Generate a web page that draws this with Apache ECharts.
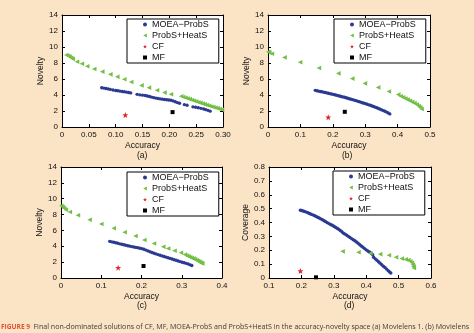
<!DOCTYPE html>
<html><head><meta charset="utf-8">
<script src="https://cdn.jsdelivr.net/npm/echarts@6/dist/echarts.min.js"></script>
<style>html,body{margin:0;padding:0;background:#fbe3c5;}#c{width:474px;height:333px;}</style>
</head><body><div id="c"></div>
<script>
// ---------- DATA ----------
const seriesNames = ['MOEA\u2212ProbS', 'ProbS+HeatS', 'CF', 'MF'];
const panelLabels = ['(a)', '(b)', '(c)', '(d)'];
const xAxisTitles = ['Accuracy', 'Accuracy', 'Accuracy', 'Accuracy'];
const yAxisTitles = ['Novelty', 'Novelty', 'Novelty', 'Coverage'];

const xTicksA = ['0', '0.05', '0.10', '0.15', '0.20', '0.25', '0.30'];
const xTicksB = ['0', '0.1', '0.2', '0.3', '0.4', '0.5'];
const xTicksC = ['0', '0.1', '0.2', '0.3', '0.4'];
const xTicksD = ['0.1', '0.2', '0.3', '0.4', '0.5', '0.6'];
const yTicksNovelty = ['0', '2', '4', '6', '8', '10', '12', '14'];
const yTicksCoverage = ['0', '0.1', '0.2', '0.3', '0.4', '0.5', '0.6', '0.7', '0.8'];

// (a)
const moeaA = [[0.074,4.90],[0.078,4.86],[0.082,4.81],[0.086,4.76],[0.090,4.70],[0.095,4.63],[0.100,4.57],[0.104,4.53],[0.108,4.49],[0.112,4.44],[0.116,4.40],[0.120,4.36],[0.124,4.32],[0.128,4.26],[0.140,4.08],[0.145,4.02],[0.150,3.98],[0.155,3.93],[0.159,3.87],[0.163,3.81],[0.167,3.74],[0.171,3.67],[0.175,3.61],[0.179,3.56],[0.183,3.52],[0.187,3.48],[0.191,3.43],[0.195,3.41],[0.199,3.38],[0.203,3.34],[0.207,3.26],[0.211,3.15],[0.215,3.05],[0.219,2.97],[0.228,2.80],[0.233,2.71],[0.244,2.52],[0.249,2.46],[0.254,2.40],[0.259,2.33],[0.264,2.25],[0.268,2.17],[0.272,2.08],[0.276,1.98]];
const heatsA = [[0.008,9.00],[0.011,8.90],[0.014,8.80],[0.017,8.66],[0.020,8.52],[0.028,8.15],[0.037,7.90],[0.047,7.60],[0.060,7.25],[0.075,6.92],[0.090,6.58],[0.103,6.27],[0.116,5.97],[0.129,5.62],[0.148,5.20],[0.162,4.92],[0.177,4.60],[0.191,4.30],[0.203,4.10],[0.222,3.84],[0.226,3.75],[0.230,3.66],[0.234,3.57],[0.238,3.48],[0.242,3.38],[0.246,3.28],[0.250,3.19],[0.254,3.10],[0.258,3.01],[0.262,2.92],[0.266,2.83],[0.270,2.74],[0.274,2.65],[0.278,2.57],[0.282,2.49],[0.286,2.41],[0.290,2.33],[0.294,2.25],[0.298,2.17]];
const cfA = [[0.118,1.50]];
const mfA = [[0.206,1.86]];

// (b)
const moeaB = [[0.146,4.58],[0.151,4.53],[0.156,4.49],[0.161,4.44],[0.166,4.40],[0.171,4.36],[0.176,4.31],[0.181,4.27],[0.186,4.22],[0.191,4.17],[0.196,4.12],[0.201,4.08],[0.206,4.03],[0.211,3.98],[0.216,3.92],[0.221,3.87],[0.226,3.82],[0.231,3.76],[0.236,3.71],[0.241,3.65],[0.246,3.60],[0.251,3.54],[0.256,3.48],[0.261,3.42],[0.266,3.36],[0.271,3.30],[0.276,3.24],[0.281,3.17],[0.286,3.11],[0.291,3.04],[0.296,2.98],[0.301,2.92],[0.306,2.84],[0.311,2.77],[0.316,2.71],[0.321,2.63],[0.326,2.56],[0.331,2.48],[0.336,2.40],[0.341,2.32],[0.346,2.23],[0.351,2.14],[0.356,2.05],[0.361,1.96],[0.366,1.86],[0.371,1.76],[0.376,1.64]];
const heatsB = [[0.001,9.40],[0.004,9.30],[0.012,9.15],[0.051,8.70],[0.099,8.10],[0.157,7.38],[0.217,6.70],[0.260,6.05],[0.299,5.45],[0.340,4.95],[0.373,4.44],[0.402,4.05],[0.410,3.85],[0.417,3.70],[0.424,3.56],[0.431,3.42],[0.438,3.28],[0.445,3.14],[0.452,2.98],[0.459,2.82],[0.465,2.62],[0.470,2.45],[0.474,2.25]];
const cfB = [[0.186,1.22]];
const mfB = [[0.237,1.90]];

// (c)
const moeaC = [[0.121,4.62],[0.126,4.56],[0.131,4.50],[0.136,4.44],[0.141,4.38],[0.146,4.31],[0.151,4.25],[0.156,4.19],[0.161,4.13],[0.166,4.07],[0.171,4.02],[0.176,3.96],[0.181,3.91],[0.186,3.86],[0.191,3.81],[0.196,3.76],[0.201,3.70],[0.206,3.62],[0.211,3.52],[0.216,3.42],[0.221,3.32],[0.226,3.22],[0.231,3.12],[0.236,3.04],[0.241,2.95],[0.246,2.87],[0.251,2.79],[0.256,2.71],[0.261,2.63],[0.266,2.55],[0.271,2.47],[0.276,2.39],[0.281,2.31],[0.286,2.23],[0.291,2.15],[0.296,2.07],[0.301,1.99],[0.306,1.92],[0.311,1.85],[0.316,1.76],[0.321,1.66],[0.325,1.57]];
const heatsC = [[0.001,9.10],[0.004,8.95],[0.008,8.80],[0.012,8.60],[0.022,8.33],[0.042,7.92],[0.071,7.35],[0.100,6.82],[0.131,6.27],[0.158,5.77],[0.185,5.30],[0.207,4.79],[0.231,4.35],[0.254,3.95],[0.266,3.72],[0.282,3.43],[0.298,3.18],[0.308,2.95],[0.313,2.82],[0.317,2.72],[0.321,2.62],[0.325,2.53],[0.329,2.44],[0.333,2.35],[0.337,2.24],[0.340,2.15],[0.343,2.06],[0.346,1.97],[0.349,1.88],[0.351,1.82]];
const cfC = [[0.142,1.30]];
const mfC = [[0.205,1.51]];

// (d)
const moeaD = [[0.197,0.488],[0.201,0.486],[0.205,0.483],[0.210,0.479],[0.215,0.475],[0.220,0.470],[0.225,0.465],[0.230,0.460],[0.235,0.455],[0.240,0.450],[0.245,0.444],[0.250,0.438],[0.255,0.432],[0.260,0.426],[0.265,0.420],[0.270,0.413],[0.275,0.406],[0.280,0.399],[0.285,0.392],[0.290,0.386],[0.295,0.380],[0.300,0.373],[0.305,0.366],[0.310,0.359],[0.315,0.351],[0.320,0.342],[0.325,0.333],[0.330,0.322],[0.335,0.316],[0.340,0.308],[0.345,0.300],[0.350,0.292],[0.355,0.284],[0.360,0.276],[0.365,0.268],[0.370,0.260],[0.375,0.250],[0.380,0.240],[0.385,0.231],[0.390,0.222],[0.395,0.212],[0.400,0.203],[0.405,0.195],[0.410,0.187],[0.415,0.179],[0.420,0.168],[0.423,0.150],[0.428,0.138],[0.433,0.128],[0.438,0.117],[0.443,0.106],[0.448,0.095],[0.453,0.085],[0.458,0.076],[0.463,0.064],[0.468,0.053],[0.472,0.044],[0.476,0.036]];
const heatsD = [[0.327,0.192],[0.376,0.186],[0.413,0.178],[0.443,0.172],[0.470,0.164],[0.492,0.150],[0.510,0.140],[0.522,0.134],[0.530,0.129],[0.536,0.121],[0.541,0.110],[0.544,0.096],[0.546,0.083],[0.547,0.072]];
const cfD = [[0.197,0.050]];
const mfD = [[0.245,0.005]];

const captionHead = 'FIGURE 9';
const captionBody = 'Final non-dominated solutions of CF, MF, MOEA-ProbS and ProbS+HeatS in the accuracy-novelty space (a) Movielens 1. (b) Movielens';

// ---------- LAYOUT / STYLE ----------
const FONT = 'Liberation Sans';
const panels = [
  {grid:{left:62, top:15, width:161, height:112}, xt:xTicksA, yt:yTicksNovelty, data:[moeaA,heatsA,cfA,mfA], legend:{left:127, top:19}, label:[143,156], yGap:14},
  {grid:{left:268, top:15, width:162, height:112}, xt:xTicksB, yt:yTicksNovelty, data:[moeaB,heatsB,cfB,mfB], legend:{left:334, top:19}, label:[348,156], yGap:17},
  {grid:{left:61, top:167, width:161, height:111}, xt:xTicksC, yt:yTicksNovelty, data:[moeaC,heatsC,cfC,mfC], legend:{left:127, top:172}, label:[143,306], yGap:16},
  {grid:{left:269, top:167, width:162, height:111}, xt:xTicksD, yt:yTicksCoverage, data:[moeaD,heatsD,cfD,mfD], legend:{left:333, top:171}, label:[350,306], yGap:18}
];
const STAR = 'path://M0,-10L2.4,-3.3L9.5,-3.1L3.9,1.3L5.9,8.1L0,4.1L-5.9,8.1L-3.9,1.3L-9.5,-3.1L-2.4,-3.3Z';
const LEFT_TRI = 'path://M0,5L9,0L9,10Z';
const seriesStyles = [
  {symbol:'circle', symbolSize:3.4, color:'#2a3a92'},
  {symbol:LEFT_TRI, symbolSize:4.6, color:'#72bf44'},
  {symbol:STAR, symbolSize:6, color:'#e3262d'},
  {symbol:'rect', symbolSize:4, color:'#000000'}
];

function axisFromTicks(labels) {
  const min = parseFloat(labels[0]);
  const max = parseFloat(labels[labels.length - 1]);
  const interval = (max - min) / (labels.length - 1);
  return {min, max, interval, fmt: v => labels[Math.round((v - min) / interval)] || ''};
}

const option = {
  backgroundColor: '#fbe3c5',
  animation: false,
  grid: [], xAxis: [], yAxis: [], series: [], legend: [], graphic: []
};

panels.forEach((p, i) => {
  option.grid.push(Object.assign({show:true, backgroundColor:'#ffffff', borderWidth:0}, p.grid));
  const xa = axisFromTicks(p.xt), ya = axisFromTicks(p.yt);
  const lineStyle = {color:'#000', width:1};
  const base = {type:'value', gridIndex:i, splitLine:{show:false},
    axisLine:{show:true, onZero:false, lineStyle},
    axisTick:{show:true, inside:true, length:3, lineStyle}};
  option.xAxis.push(Object.assign({}, base, {position:'bottom', min:xa.min, max:xa.max, interval:xa.interval,
    axisLabel:{formatter:xa.fmt, fontSize:8, fontFamily:FONT, color:'#111', margin:4},
    name:xAxisTitles[i], nameLocation:'middle', nameGap:14,
    nameTextStyle:{fontSize:8.5, fontFamily:FONT, color:'#111'}}));
  option.xAxis.push(Object.assign({}, base, {position:'top', min:xa.min, max:xa.max, interval:xa.interval,
    axisLabel:{show:false}}));
  option.yAxis.push(Object.assign({}, base, {position:'left', min:ya.min, max:ya.max, interval:ya.interval,
    axisLabel:{formatter:ya.fmt, fontSize:8, fontFamily:FONT, color:'#111', margin:4},
    name:yAxisTitles[i], nameLocation:'middle', nameGap:p.yGap,
    nameTextStyle:{fontSize:8.5, fontFamily:FONT, color:'#111'}}));
  option.yAxis.push(Object.assign({}, base, {position:'right', min:ya.min, max:ya.max, interval:ya.interval,
    axisLabel:{show:false}}));
  p.data.forEach((d, k) => {
    const st = seriesStyles[k];
    option.series.push({type:'scatter', name:seriesNames[k], xAxisIndex:2*i, yAxisIndex:2*i,
      data:d, symbol:st.symbol, symbolSize:st.symbolSize,
      itemStyle:{color:st.color, opacity:1}, z: k >= 2 ? 4 : 3});
  });
  option.legend.push({orient:'vertical', left:p.legend.left, top:p.legend.top, data:seriesNames,
    itemWidth:4, itemHeight:4, itemGap:2, padding:[1,10,1,16],
    backgroundColor:'#ffffff', borderColor:'#000', borderWidth:1, borderRadius:0,
    selectedMode:false, textStyle:{fontSize:9, fontFamily:FONT, color:'#111'}});
  option.graphic.push({type:'text', left:p.label[0]-6, top:p.label[1]-5,
    style:{text:panelLabels[i], fontSize:8.5, fontFamily:FONT, fill:'#111'}});
});

option.graphic.push({type:'text', left:1, top:321,
  style:{text:'{h|' + captionHead + '} {b|' + captionBody + '}',
    rich:{h:{fontSize:6.6, fontWeight:'bold', fontFamily:'Open Sans', fill:'#e0532f', color:'#e0532f'},
          b:{fontSize:7.1, fontFamily:'Open Sans', fill:'#3b3b3b', color:'#3b3b3b'}}}});

const chart = echarts.init(document.getElementById('c'), null, {renderer:'canvas'});
chart.setOption(option);
</script></body></html>
